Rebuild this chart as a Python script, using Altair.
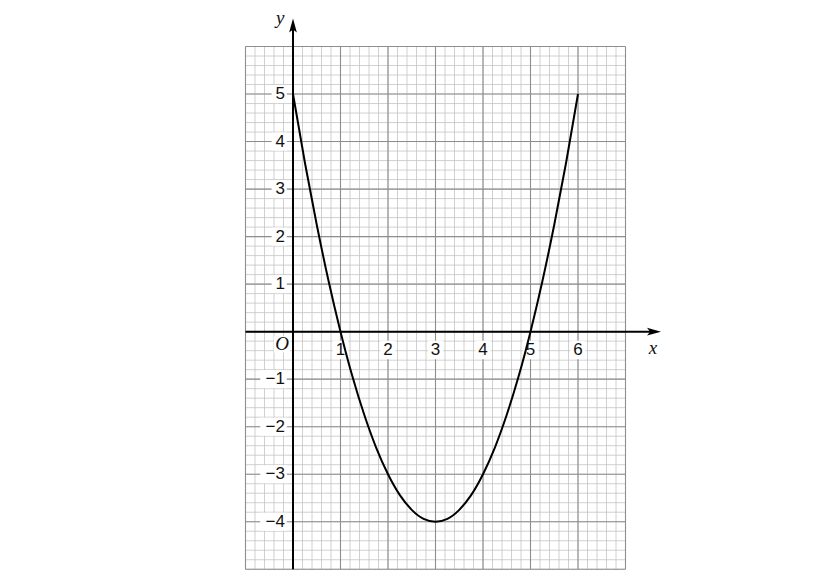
import pandas as pd
import altair as alt

# --- valeurs ---
curve_x = [0, 0.25, 0.5, 0.75, 1, 1.25, 1.5, 1.75, 2, 2.25, 2.5, 2.75, 3,
           3.25, 3.5, 3.75, 4, 4.25, 4.5, 4.75, 5, 5.25, 5.5, 5.75, 6]
curve_y = [5, 3.56, 2.25, 1.06, 0, -0.94, -1.75, -2.44, -3, -3.44, -3.75, -3.94, -4,
           -3.94, -3.75, -3.44, -3, -2.44, -1.75, -0.94, 0, 1.06, 2.25, 3.56, 5]

x_ticks = [1, 2, 3, 4, 5, 6]
x_tick_labels = ["1", "2", "3", "4", "5", "6"]
y_ticks = [5, 4, 3, 2, 1, -1, -2, -3, -4]
y_tick_labels = ["5", "4", "3", "2", "1", "\u22121", "\u22122", "\u22123", "\u22124"]

grid_x_min, grid_x_max = -1, 7
grid_y_min, grid_y_max = -5, 6

# --- échelles communes ---
X_DOM = [-6, 10.8]
Y_DOM = [-5.1, 6.6]
xs = alt.Scale(domain=X_DOM, nice=False, zero=False)
ys = alt.Scale(domain=Y_DOM, nice=False, zero=False)


def X(f):
    return alt.X(f, type="quantitative", scale=xs, axis=None)


def Y(f):
    return alt.Y(f, type="quantitative", scale=ys, axis=None)


# --- quadrillage ---
minor_v = [grid_x_min + i * 0.2 for i in range(int((grid_x_max - grid_x_min) * 5) + 1)]
minor_h = [grid_y_min + i * 0.2 for i in range(int((grid_y_max - grid_y_min) * 5) + 1)]
major_v = list(range(grid_x_min, grid_x_max + 1))
major_h = list(range(grid_y_min, grid_y_max + 1))

vlines = pd.DataFrame({"x": minor_v, "y": grid_y_min, "y2": grid_y_max})
hlines = pd.DataFrame({"y": minor_h, "x": grid_x_min, "x2": grid_x_max})
vmaj = pd.DataFrame({"x": major_v, "y": grid_y_min, "y2": grid_y_max})
hmaj = pd.DataFrame({"y": major_h, "x": grid_x_min, "x2": grid_x_max})

minor_style = dict(color="#c4c4c4", strokeWidth=0.8)
major_style = dict(color="#8e8e8e", strokeWidth=1.1)

g1 = alt.Chart(vlines).mark_rule(**minor_style).encode(x=X("x"), y=Y("y"), y2="y2")
g2 = alt.Chart(hlines).mark_rule(**minor_style).encode(y=Y("y"), x=X("x"), x2="x2")
g3 = alt.Chart(vmaj).mark_rule(**major_style).encode(x=X("x"), y=Y("y"), y2="y2")
g4 = alt.Chart(hmaj).mark_rule(**major_style).encode(y=Y("y"), x=X("x"), x2="x2")

# --- étiquettes des graduations (avec fond blanc) ---
xlab = pd.DataFrame({"v": x_ticks, "label": x_tick_labels})
ylab = pd.DataFrame({"v": y_ticks, "label": y_tick_labels})

xbox = (
    alt.Chart(xlab)
    .transform_calculate(x1="datum.v - 0.16", x2="datum.v + 0.16", y1="-0.58", y2="-0.19")
    .mark_rect(color="white")
    .encode(x=X("x1"), x2="x2", y=Y("y1"), y2="y2")
)
ybox = (
    alt.Chart(ylab)
    .transform_calculate(
        x2="-0.13",
        x1="-0.13 - (0.08 + 0.24 * length(datum.label))",
        y1="datum.v - 0.19",
        y2="datum.v + 0.19",
    )
    .mark_rect(color="white")
    .encode(x=X("x1"), x2="x2", y=Y("y1"), y2="y2")
)

num_font = dict(font="Liberation Sans", fontSize=17, color="#111")
xtxt = (
    alt.Chart(xlab)
    .transform_calculate(y0="0")
    .mark_text(align="center", baseline="middle", dy=18, **num_font)
    .encode(x=X("v"), y=Y("y0"), text="label:N")
)
ytxt = (
    alt.Chart(ylab)
    .transform_calculate(x0="0")
    .mark_text(align="right", baseline="middle", dx=-8, **num_font)
    .encode(x=X("x0"), y=Y("v"), text="label:N")
)

# --- O, x, y ---
letters = pd.DataFrame({
    "x": [-0.23, 7.58, -0.27],
    "y": [-0.27, -0.35, 6.6],
    "t": ["O", "x", "y"],
})
lbox = (
    alt.Chart(letters[letters["t"] == "O"])
    .mark_square(color="white", opacity=1, size=260)
    .encode(x=X("x"), y=Y("y"))
)
ltxt = (
    alt.Chart(letters)
    .mark_text(font="Liberation Serif", fontStyle="italic", fontSize=19, color="#111",
               align="center", baseline="middle")
    .encode(x=X("x"), y=Y("y"), text="t:N")
)

# --- axes fléchés ---
axes = pd.DataFrame({
    "x": [-1, 0], "x2": [7.6, 0],
    "y": [0, -5], "y2": [0, 6.44],
})
ax = (
    alt.Chart(axes)
    .mark_rule(color="black", strokeWidth=2)
    .encode(x=X("x"), x2="x2", y=Y("y"), y2="y2")
)
heads = pd.DataFrame({
    "x": [7.6, 0], "y": [0, 6.44],
    "shape": ["M1,0L-1,-0.55L-0.55,0L-1,0.55Z", "M0,-1L-0.55,1L0,0.55L0.55,1Z"],
})
ah = (
    alt.Chart(heads)
    .mark_point(filled=True, color="black", opacity=1, size=196)
    .encode(x=X("x"), y=Y("y"), shape=alt.Shape("shape:N", scale=None, legend=None))
)

# --- courbe ---
cdf = pd.DataFrame({"x": curve_x, "y": curve_y})
curve = (
    alt.Chart(cdf)
    .mark_line(color="black", strokeWidth=2, interpolate="monotone")
    .encode(x=X("x"), y=Y("y"), order="x:Q")
)

chart = (
    alt.layer(g1, g2, g3, g4, xbox, ybox, lbox, xtxt, ytxt, ltxt, ax, curve, ah)
    .properties(width=798, height=556,
                padding={"top": 10, "left": 0, "right": 0, "bottom": 0},
                autosize=alt.AutoSizeParams(type="none"),
                background="white")
    .configure_view(stroke=None)
)

chart.save("out.html", embed_options={"renderer": "svg", "actions": False})
